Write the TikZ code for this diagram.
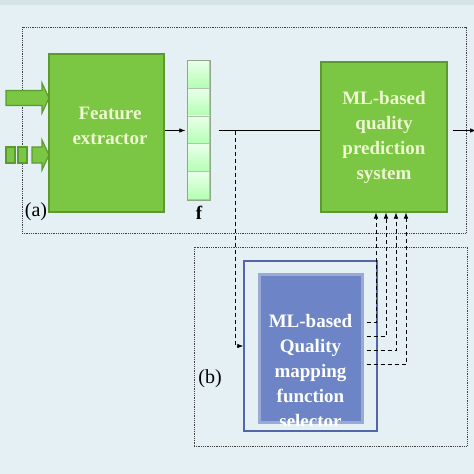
\documentclass[tikz,border=0pt]{standalone}
\usepackage{fontspec}
\setmainfont{Liberation Serif}
\usetikzlibrary{arrows.meta,calc,positioning}
\definecolor{bgblue}{HTML}{E5F0F5}
\definecolor{topstrip}{HTML}{D3E3E8}
\definecolor{boxgreen}{HTML}{7BC642}
\definecolor{boxgreenline}{HTML}{5B9A2E}
\definecolor{textcream}{HTML}{EEF6D2}
\definecolor{cellline}{HTML}{8FA88A}
\definecolor{selblue}{HTML}{6D85C6}
\definecolor{selline}{HTML}{5566A8}
\tikzset{
    diagram/.style={x=1pt,y=-1pt,>={Latex[length=6pt,width=4.5pt]},semithick},
    greentext/.style={text=textcream, font=\fontsize{19}{25}\selectfont\bfseries, align=center, inner sep=0pt},
    greenbox/.style={greentext, draw=boxgreenline, fill=boxgreen, line width=1.2pt},
    vecbox/.style={draw=cellline, line width=1.4pt, inner sep=0pt},
    vcell/.style={draw=cellline!70, top color=green!8, bottom color=green!30!white, line width=0.5pt},
    groupbox/.style={draw=black!75, densely dotted, line width=0.8pt, inner sep=0pt},
    selbox/.style={draw=selline, line width=1.5pt, inner sep=0pt},
    selfill/.style={fill=selblue, draw=selblue!70!white, line width=3pt, inner sep=0pt},
    seltext/.style={text=white, font=\fontsize{19}{25}\selectfont\bfseries, align=center},
    inarrow/.style={fill=boxgreen, draw=boxgreenline, line width=1.2pt},
    tag/.style={font=\fontsize{20}{24}\selectfont},
    flow/.style={dashed, dash pattern=on 4pt off 3pt},
    }
\begin{document}
\begin{tikzpicture}[diagram]
    \useasboundingbox (0,0) rectangle (474,474);
    \fill[bgblue] (0,0) rectangle (474,474);
    \fill[topstrip] (0,0) rectangle (474,5);

    % group boxes
    \node[groupbox, minimum width=444pt, minimum height=206pt] (ga) at (244,130) {};
    \node[groupbox, minimum width=273pt, minimum height=199pt] (gb) at (330.5,346.5) {};
    \node[tag] (la) at (36,212) {(a)};
    \node[tag] (lb) at (210,379) {(b)};

    % inputs
    \path[inarrow] (6,90.5) -- (42,90.5) -- (42,83) -- (49,98) -- (42,113) -- (42,105.5) -- (6,105.5) -- cycle;
    \path[inarrow] (6,147) rectangle (15,163);
    \path[inarrow] (18,147) rectangle (27,163);
    \path[inarrow] (32,147) -- (42,147) -- (42,140) -- (49,155) -- (42,170) -- (42,163) -- (32,163) -- cycle;

    % blocks
    \node[greenbox, minimum width=115pt, minimum height=158pt] (fe) at (106.5,133) {};
    \node[greentext] (fetext) at (110,126) {Feature\\extractor};
    \node[greenbox, minimum width=126pt, minimum height=150pt] (qps) at (384,137) {ML-based\\quality\\prediction\\system};

    % feature vector
    \node[vecbox, minimum width=22pt, minimum height=139pt] (fv) at (199,130.5) {};
    \foreach \k in {0,...,4}
        \draw[vcell] ($(fv.north west)+(0,27.8*\k)$) rectangle ++(22,27.8);
    \draw[cellline, line width=1.4pt] (fv.north west) rectangle (fv.south east);
    \node[font=\fontsize{19}{22}\selectfont\bfseries, below=2pt of fv] (flab) {f};

    % selector
    \node[selbox, minimum width=133pt, minimum height=170pt] (sel) at (310.5,346) {};
    \node[selfill, minimum width=103pt, minimum height=148pt] (mqs) at (310.5,348) {};
    \begin{scope}
        \clip (mqs.north west) rectangle ([yshift=-2pt]mqs.south east);
        \node[seltext] (mqstext) at (310.5,371) {ML-based\\Quality\\mapping\\function\\selector};
    \end{scope}

    % connectors
    \coordinate (j) at (235,130.5);
    \coordinate (out) at (476,130.5);
    \path[->] (fe.east |- fv.west) edge[shorten >=2pt] (fv.west);
    \draw[shorten <=8pt] (fv.east) -- (qps.west |- fv.east);
    \draw[->, shorten <=5pt] (qps.east |- fv.east) -- (out);
    \draw[flow,->] (j) |- (sel.west);
    \foreach \dy/\dx in {-26/-8,-12/2,2/12,16/22}
        \draw[flow,->] ($(mqs.east)+(3,\dy)$) -| ($(qps.south)+(\dx,0)$);
\end{tikzpicture}
\end{document}
